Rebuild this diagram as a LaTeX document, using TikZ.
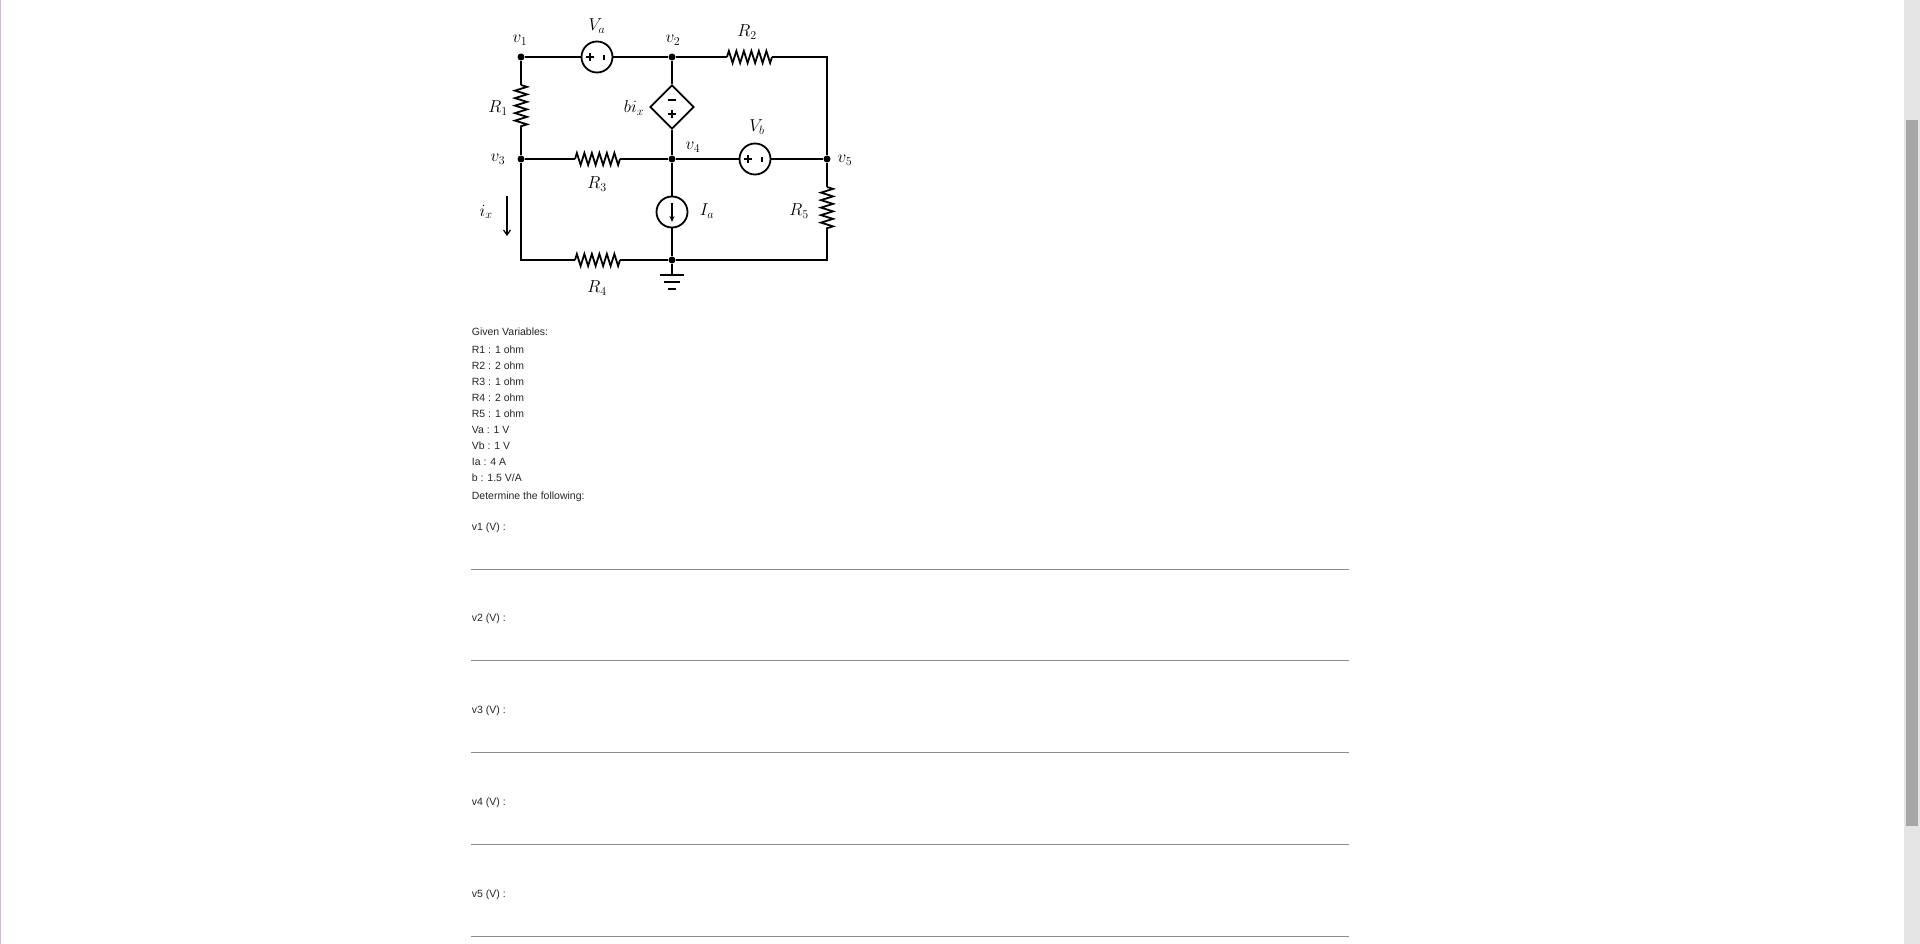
\documentclass[tikz,border=0pt]{standalone}
\usepackage{fontspec}
\setmainfont{Liberation Sans}
\usetikzlibrary{shapes.geometric,decorations.pathmorphing,arrows.meta}
\begin{document}
\begin{tikzpicture}[x=1pt,y=-1pt,line width=1.8pt,
  dot/.style={circle,fill,inner sep=0pt,minimum size=7pt},
  src/.style={circle,draw,minimum size=31pt,inner sep=0pt},
  res/.style={decorate,decoration={zigzag,segment length=7.5pt,amplitude=6pt}},
  lab/.style={font=\fontsize{17}{17}\selectfont},
  txt/.style={anchor=west,font=\fontsize{10.5}{12}\selectfont,text=black!85,inner sep=0pt},
  ans/.style={draw=black!45,line width=0.8pt}]
\useasboundingbox[fill=white] (0,0) rectangle (1920,944);
\draw[draw=violet!30,line width=1pt] (0.5,0) -- (0.5,944);
\fill[black!10] (1904,0) rectangle (1920,944);
\fill[black!35] (1906,120) rectangle (1918,826);
% nodes
\node[dot] (v1) at (521,57) {};
\node[dot] (v2) at (672,57) {};
\coordinate (tr) at (827,57);
\node[dot] (v3) at (521,159) {};
\node[dot] (v4) at (672,159) {};
\node[dot] (v5) at (827,159) {};
\coordinate (bl) at (521,260);
\node[dot] (g) at (672,260) {};
\coordinate (br) at (827,260);
% sources
\node[src] (Va) at (597,57) {};
\node[src] (Vb) at (755,159) {};
\node[src] (Ia) at (672,212) {};
\node[diamond,draw,minimum size=44pt,inner sep=0pt] (D) at (672,107) {};
\foreach \s in {Va,Vb}{
  \draw[line width=1.4pt] ([xshift=-11pt]\s.center) -- ([xshift=-3pt]\s.center)
     ([xshift=-7pt,yshift=-4pt]\s.center) -- ([xshift=-7pt,yshift=4pt]\s.center);
  \draw[line width=1.4pt] ([xshift=7pt,yshift=-3pt]\s.center) -- ([xshift=7pt,yshift=2pt]\s.center);}
\draw[line width=1.2pt] ([yshift=-11pt]D.center) -- ([yshift=-3pt]D.center)
   ([xshift=-4pt,yshift=-7pt]D.center) -- ([xshift=4pt,yshift=-7pt]D.center);
\draw[line width=1.2pt] ([xshift=-4pt,yshift=7pt]D.center) -- ([xshift=4pt,yshift=7pt]D.center);
\draw[-{Stealth[length=6pt,width=5pt]},line width=1.4pt] ([yshift=9pt]Ia.center) -- ([yshift=-10pt]Ia.center);
% resistor ends
\coordinate (r1a) at (521,85); \coordinate (r1b) at (521,128);
\coordinate (r2a) at (727,57); \coordinate (r2b) at (772,57);
\coordinate (r3a) at (575,159); \coordinate (r3b) at (620,159);
\coordinate (r4a) at (575,260); \coordinate (r4b) at (620,260);
\coordinate (r5a) at (827,187); \coordinate (r5b) at (827,230);
% wires
\draw (v1) -- (Va) -- (v2) -- (r2a);
\draw[res] (r2a) -- (r2b);
\draw (r2b) -- (tr) -- (v5);
\draw (v1) -- (r1a); \draw[res] (r1a) -- (r1b); \draw (r1b) -- (v3);
\draw (v2) -- (D) -- (v4);
\draw (v3) -- (r3a); \draw[res] (r3a) -- (r3b); \draw (r3b) -- (v4);
\draw (v4) -- (Vb) -- (v5);
\draw (v5) -- (r5a); \draw[res] (r5a) -- (r5b); \draw (r5b) -- (br) -- (g);
\draw (v4) -- (Ia) -- (g);
\draw (v3) -- (bl) -- (r4a); \draw[res] (r4a) -- (r4b); \draw (r4b) -- (g);
% ground
\coordinate (gt) at (672,275);
\draw (g) -- (gt);
\draw (gt) ++(-12,0) -- ++(24,0);
\draw (gt) ++(-8,7) -- ++(16,0);
\draw (gt) ++(-4,14) -- ++(8,0);
% ix arrow
\coordinate (ia) at (507,196); \coordinate (ib) at (507,236);
\draw[-{Straight Barb[length=5pt,width=7pt]},line width=1.2pt] (ia) -- (ib);
% labels
\node[lab] at (520,40) {$v_1$};
\node[lab] at (597,26) {$V_a$};
\node[lab] at (673,40) {$v_2$};
\node[lab] at (747,32) {$R_2$};
\node[lab] at (498,108) {$R_1$};
\node[lab] at (634,108) {$bi_x$};
\node[lab] at (757,127) {$V_b$};
\node[lab] at (693,147) {$v_4$};
\node[lab] at (498,159) {$v_3$};
\node[lab] at (845,160) {$v_5$};
\node[lab] at (597,184) {$R_3$};
\node[lab] at (486,212) {$i_x$};
\node[lab] at (707,211) {$I_a$};
\node[lab] at (799,211) {$R_5$};
\node[lab] at (597,288) {$R_4$};
% text
\node[txt] at (471,332) {Given Variables:};
\node[txt] at (471,350) {R1 : 1 ohm};
\node[txt] at (471,366) {R2 : 2 ohm};
\node[txt] at (471,382) {R3 : 1 ohm};
\node[txt] at (471,398) {R4 : 2 ohm};
\node[txt] at (471,414) {R5 : 1 ohm};
\node[txt] at (471,430) {Va : 1 V};
\node[txt] at (471,446) {Vb : 1 V};
\node[txt] at (471,462) {Ia : 4 A};
\node[txt] at (471,478) {b : 1.5 V/A};
\node[txt] at (471,497) {Determine the following:};
\foreach \n/\y in {1/528,2/619,3/711,4/803,5/895}{
  \node[txt] at (471,\y) {v\n{} (V) :};
  \draw[ans] (471,\y+41) -- (1349,\y+41);}
\end{tikzpicture}
\end{document}
